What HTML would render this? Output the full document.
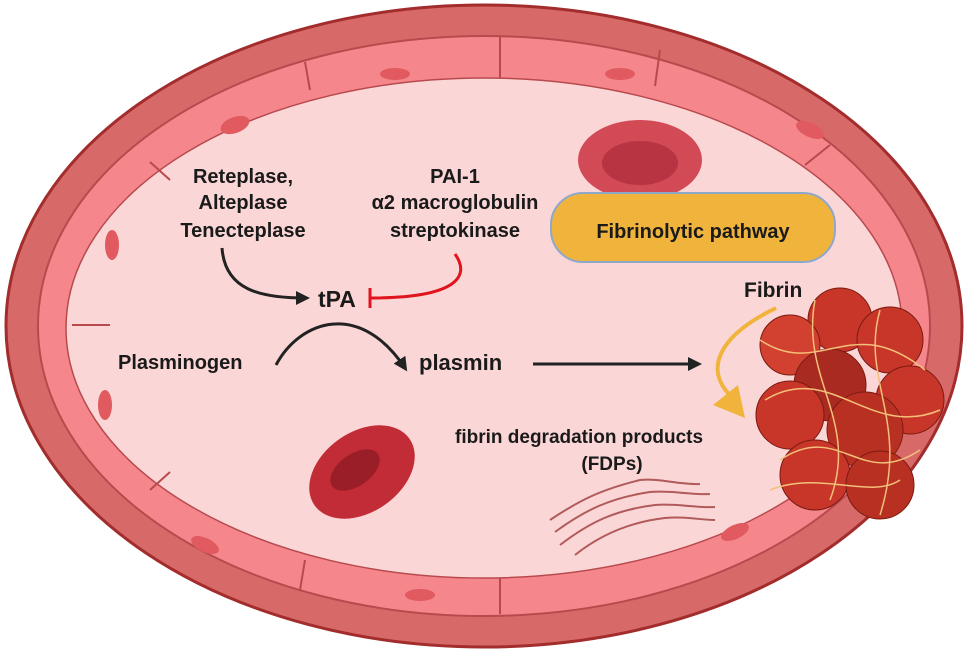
<!DOCTYPE html>
<html><head><meta charset="utf-8"><style>
body{margin:0;background:#fff}
svg{display:block}
text{font-family:"Liberation Sans",sans-serif;font-weight:bold;fill:#1a1a1a}
</style></head><body>
<svg width="968" height="652" viewBox="0 0 968 652">
<defs>
<marker id="ab" markerWidth="14" markerHeight="14" refX="10" refY="7" orient="auto" markerUnits="userSpaceOnUse"><path d="M0,0 L14,7 L0,14z" fill="#222"/></marker>
</defs>
<ellipse cx="484" cy="326" rx="478" ry="321" fill="#d76a69" stroke="#a32c2c" stroke-width="3"/>
<ellipse cx="484" cy="326" rx="446" ry="290" fill="#f4868c" stroke="#b84a4e" stroke-width="2"/>
<ellipse cx="484" cy="328" rx="418" ry="250" fill="#fbd6d6" stroke="#b84a4e" stroke-width="1.5"/>
<!-- cell junctions -->
<g stroke="#b84a4e" stroke-width="2">
<line x1="305" y1="62" x2="310" y2="90"/>
<line x1="500" y1="37" x2="500" y2="78"/>
<line x1="660" y1="50" x2="655" y2="86"/>
<line x1="150" y1="162" x2="170" y2="180"/>
<line x1="72" y1="325" x2="110" y2="325"/>
<line x1="150" y1="490" x2="170" y2="472"/>
<line x1="300" y1="590" x2="305" y2="560"/>
<line x1="500" y1="614" x2="500" y2="578"/>
<line x1="830" y1="145" x2="805" y2="165"/>
</g>
<!-- nuclei -->
<g fill="#e05a60">
<ellipse cx="235" cy="125" rx="15" ry="8" transform="rotate(-20 235 125)"/>
<ellipse cx="395" cy="74" rx="15" ry="6"/>
<ellipse cx="620" cy="74" rx="15" ry="6"/>
<ellipse cx="810" cy="130" rx="15" ry="7" transform="rotate(25 810 130)"/>
<ellipse cx="112" cy="245" rx="7" ry="15"/>
<ellipse cx="105" cy="405" rx="7" ry="15"/>
<ellipse cx="205" cy="545" rx="15" ry="7" transform="rotate(25 205 545)"/>
<ellipse cx="420" cy="595" rx="15" ry="6"/>
<ellipse cx="735" cy="532" rx="15" ry="7" transform="rotate(-25 735 532)"/>
<ellipse cx="905" cy="330" rx="7" ry="15"/>
</g>
<!-- red blood cells -->
<ellipse cx="640" cy="160" rx="62" ry="40" fill="#d24a55"/>
<ellipse cx="640" cy="163" rx="38" ry="22" fill="#b83442"/>
<ellipse cx="362" cy="472" rx="58" ry="40" transform="rotate(-35 362 472)" fill="#c22c36"/>
<ellipse cx="355" cy="470" rx="28" ry="16" transform="rotate(-35 355 470)" fill="#9a1e28"/>
<!-- fibrinolytic box -->
<rect x="551" y="193" width="284" height="69" rx="32" fill="#f0b43d" stroke="#8ea8cc" stroke-width="2"/>
<text x="693" y="238" font-size="20" text-anchor="middle">Fibrinolytic pathway</text>
<!-- labels -->
<g font-size="20" text-anchor="middle">
<text x="243" y="183">Reteplase,</text>
<text x="243" y="209">Alteplase</text>
<text x="243" y="237">Tenecteplase</text>
<text x="455" y="183">PAI-1</text>
<text x="455" y="209">α2 macroglobulin</text>
<text x="455" y="237">streptokinase</text>
</g>
<text x="318" y="307" font-size="23">tPA</text>
<text x="118" y="369" font-size="20">Plasminogen</text>
<text x="419" y="370" font-size="22">plasmin</text>
<text x="744" y="297" font-size="21">Fibrin</text>
<text x="455" y="443" font-size="19">fibrin degradation products</text>
<text x="612" y="470" font-size="19" text-anchor="middle">(FDPs)</text>
<!-- arrows -->
<path d="M222,248 C225,290 260,298 306,298" fill="none" stroke="#222" stroke-width="3" marker-end="url(#ab)"/>
<path d="M455,254 C470,275 460,298 370,298" fill="none" stroke="#e0141c" stroke-width="3"/>
<line x1="370" y1="288" x2="370" y2="308" stroke="#e0141c" stroke-width="3"/>
<path d="M276,365 C300,320 360,300 405,368" fill="none" stroke="#222" stroke-width="3" marker-end="url(#ab)"/>
<line x1="533" y1="364" x2="698" y2="364" stroke="#222" stroke-width="3" marker-end="url(#ab)"/>
<path d="M776,308 C720,335 700,370 735,400" fill="none" stroke="#f0b43d" stroke-width="4"/>
<path d="M713,405 L745,418 L738,385z" fill="#f0b43d"/>
<!-- FDP strands -->
<g fill="none" stroke="#b05a5a" stroke-width="2">
<path d="M550,520 C580,500 600,490 640,480 C660,478 680,485 700,484"/>
<path d="M555,532 C585,510 610,498 650,492 C670,490 690,495 710,494"/>
<path d="M560,545 C590,522 615,510 655,505 C675,503 695,508 715,507"/>
<path d="M575,555 C600,535 630,522 665,518 C685,516 700,520 715,520"/>
</g>
<!-- clot -->
<g stroke="#7a1a10" stroke-width="1">
<circle cx="840" cy="320" r="32" fill="#c8362a"/>
<circle cx="890" cy="340" r="33" fill="#c8362a"/>
<circle cx="790" cy="345" r="30" fill="#d24030"/>
<circle cx="830" cy="385" r="36" fill="#a82a20"/>
<circle cx="910" cy="400" r="34" fill="#c8362a"/>
<circle cx="790" cy="415" r="34" fill="#c8362a"/>
<circle cx="865" cy="430" r="38" fill="#b83022"/>
<circle cx="815" cy="475" r="35" fill="#c8362a"/>
<circle cx="880" cy="485" r="34" fill="#b83022"/>
</g>
<g fill="none" stroke="#f3c07a" stroke-width="1.5">
<path d="M760,340 C820,380 850,310 925,370"/>
<path d="M765,400 C830,360 870,440 940,410"/>
<path d="M780,460 C840,420 860,490 920,450"/>
<path d="M815,300 C800,380 860,420 830,500"/>
<path d="M880,310 C860,380 910,420 880,515"/>
<path d="M770,490 C820,470 870,500 900,480"/>
</g>
</svg>
</body></html>
